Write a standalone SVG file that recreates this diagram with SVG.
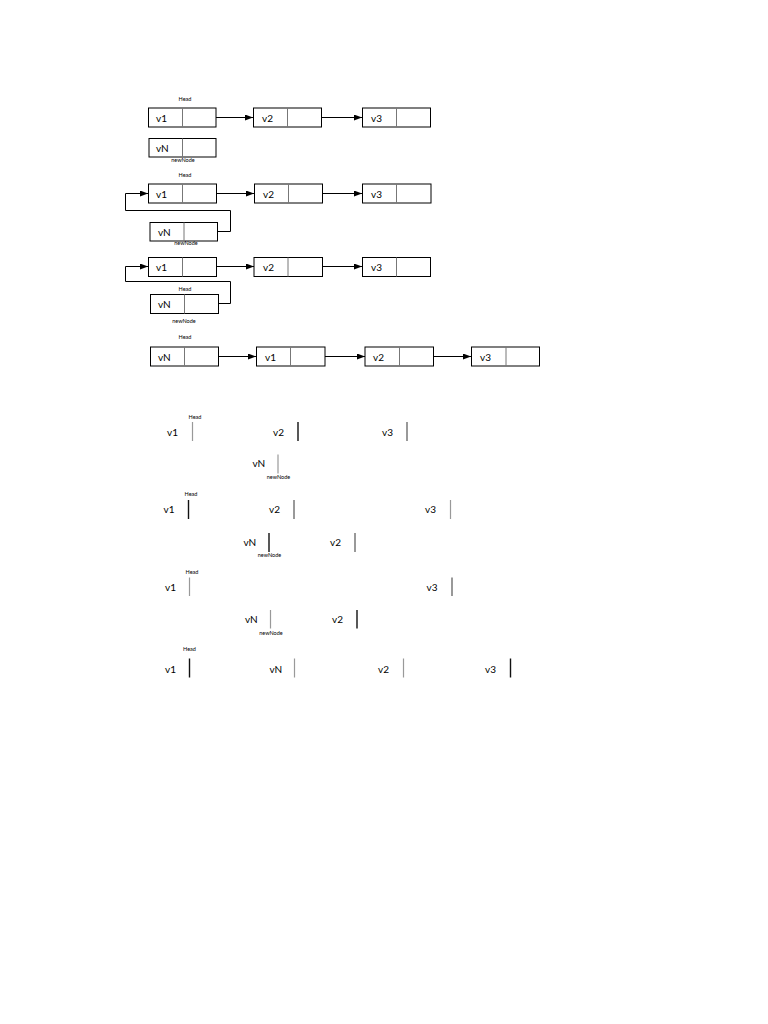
<svg xmlns="http://www.w3.org/2000/svg" width="768" height="1024" viewBox="0 0 768 1024">
<defs>
<marker id="ah" markerWidth="8" markerHeight="6" refX="8" refY="3" orient="auto" markerUnits="userSpaceOnUse">
<path d="M0,0 L8,3 L0,6 Z" fill="#000"/>
</marker>
<style>
.box{fill:#fff;stroke:#000;stroke-width:1}
.div{stroke:#777;stroke-width:1}
.t{font-family:Lato,"Liberation Sans",sans-serif;font-size:10px;fill:#000}
.s{font-family:Lato,"Liberation Sans",sans-serif;font-size:5.5px;fill:#000;text-anchor:middle}
.c{fill:none;stroke:#000;stroke-width:1}
.bar{stroke:#555;stroke-width:1.2}
.bard{stroke:#111;stroke-width:1.4}
.barl{stroke:#999;stroke-width:1.2}
</style>
</defs>
<rect width="768" height="1024" fill="#fff"/>

<g id="connectors">
<path class="c" d="M216,117.5 H253" marker-end="url(#ah)"/>
<path class="c" d="M321.5,117.5 H362" marker-end="url(#ah)"/>
<path class="c" d="M216.5,193.5 H254" marker-end="url(#ah)"/>
<path class="c" d="M322.5,193.5 H362" marker-end="url(#ah)"/>
<path class="c" d="M217.5,231.5 H230.5 V210.5 H125.5 V193.5 H148" marker-end="url(#ah)"/>
<path class="c" d="M216.5,266.5 H254" marker-end="url(#ah)"/>
<path class="c" d="M322.5,266.5 H362" marker-end="url(#ah)"/>
<path class="c" d="M218.5,303.5 H230.5 V281.5 H125.5 V266.5 H148" marker-end="url(#ah)"/>
<path class="c" d="M218.5,356.5 H256" marker-end="url(#ah)"/>
<path class="c" d="M325,356.5 H365" marker-end="url(#ah)"/>
<path class="c" d="M433.5,356.5 H471" marker-end="url(#ah)"/>
</g>

<!-- Row 1 -->
<g id="r1-head"><text class="s" x="185" y="101">Head</text></g>
<g id="r1-v1"><rect class="box" x="148.5" y="108" width="67.5" height="19"/><line class="div" x1="182.5" y1="108" x2="182.5" y2="127"/><text class="t" x="156" y="121.5">v1</text></g>
<g id="r1-v2"><rect class="box" x="253.5" y="108" width="68" height="19"/><line class="div" x1="287.5" y1="108" x2="287.5" y2="127"/><text class="t" x="262" y="121.5">v2</text></g>
<g id="r1-v3"><rect class="box" x="362.5" y="108" width="68" height="19"/><line class="div" x1="396.5" y1="108" x2="396.5" y2="127"/><text class="t" x="371" y="121.5">v3</text></g>
<g id="r1-vN"><rect class="box" x="149" y="138.5" width="67" height="18.5"/><line class="div" x1="182.5" y1="138.5" x2="182.5" y2="157"/><text class="t" x="156" y="151.5">vN</text><text class="s" x="183" y="162">newNode</text></g>

<!-- Row 2 -->
<g id="r2-head"><text class="s" x="185" y="177">Head</text></g>
<g id="r2-v1"><rect class="box" x="148.5" y="184" width="68" height="19"/><line class="div" x1="182.5" y1="184" x2="182.5" y2="203"/><text class="t" x="156" y="197.5">v1</text></g>
<g id="r2-v2"><rect class="box" x="254.5" y="184" width="68" height="19"/><line class="div" x1="288.5" y1="184" x2="288.5" y2="203"/><text class="t" x="263" y="197.5">v2</text></g>
<g id="r2-v3"><rect class="box" x="362.5" y="184" width="68.5" height="19"/><line class="div" x1="396.5" y1="184" x2="396.5" y2="203"/><text class="t" x="371" y="197.5">v3</text></g>
<g id="r2-vN"><rect class="box" x="150" y="222.5" width="67.5" height="18.5"/><line class="div" x1="184" y1="222.5" x2="184" y2="241"/><text class="t" x="158" y="235.5">vN</text><text class="s" x="186" y="245">newNode</text></g>

<!-- Row 3 -->
<g id="r3-v1"><rect class="box" x="148.5" y="257.5" width="68" height="19"/><line class="div" x1="182.5" y1="257.5" x2="182.5" y2="276.5"/><text class="t" x="156" y="270.5">v1</text></g>
<g id="r3-v2"><rect class="box" x="254" y="257.5" width="68.5" height="19"/><line class="div" x1="288" y1="257.5" x2="288" y2="276.5"/><text class="t" x="263" y="270.5">v2</text></g>
<g id="r3-v3"><rect class="box" x="362.5" y="257.5" width="68" height="19"/><line class="div" x1="396.5" y1="257.5" x2="396.5" y2="276.5"/><text class="t" x="371" y="270.5">v3</text></g>
<g id="r3-head"><text class="s" x="185" y="291">Head</text></g>
<g id="r3-vN"><rect class="box" x="150.5" y="294.5" width="68" height="19"/><line class="div" x1="184.5" y1="294.5" x2="184.5" y2="313.5"/><text class="t" x="158" y="308">vN</text><text class="s" x="184" y="323">newNode</text></g>

<!-- Row 4 -->
<g id="r4-head"><text class="s" x="185" y="339">Head</text></g>
<g id="r4-vN"><rect class="box" x="150.5" y="347" width="68" height="19"/><line class="div" x1="184.5" y1="347" x2="184.5" y2="366"/><text class="t" x="158" y="360.5">vN</text></g>
<g id="r4-v1"><rect class="box" x="256.5" y="347" width="68.5" height="19"/><line class="div" x1="290.5" y1="347" x2="290.5" y2="366"/><text class="t" x="265" y="360.5">v1</text></g>
<g id="r4-v2"><rect class="box" x="365" y="347" width="68.5" height="19"/><line class="div" x1="399.5" y1="347" x2="399.5" y2="366"/><text class="t" x="373" y="360.5">v2</text></g>
<g id="r4-v3"><rect class="box" x="471.5" y="347" width="68" height="19"/><line class="div" x1="506" y1="347" x2="506" y2="366"/><text class="t" x="480" y="360.5">v3</text></g>

<!-- Lower section, group 1 -->
<g id="l1-v1"><text class="s" x="195" y="419">Head</text><text class="t" x="167" y="436">v1</text><line class="barl" x1="192.5" y1="422" x2="192.5" y2="441"/></g>
<g id="l1-v2"><text class="t" x="273" y="436">v2</text><line class="bard" x1="298" y1="422" x2="298" y2="441"/></g>
<g id="l1-v3"><text class="t" x="382" y="436">v3</text><line class="bar" x1="407" y1="422" x2="407" y2="441"/></g>
<g id="l1-vN"><text class="t" x="252.5" y="467">vN</text><line class="barl" x1="278" y1="454.5" x2="278" y2="473.5"/><text class="s" x="278.5" y="479">newNode</text></g>

<!-- group 2 -->
<g id="l2-v1"><text class="s" x="191" y="496">Head</text><text class="t" x="163.5" y="513">v1</text><line class="bard" x1="188.5" y1="500" x2="188.5" y2="519"/></g>
<g id="l2-v2a"><text class="t" x="269" y="513">v2</text><line class="bar" x1="294" y1="500" x2="294" y2="519"/></g>
<g id="l2-v3"><text class="t" x="425" y="513">v3</text><line class="barl" x1="450.5" y1="500" x2="450.5" y2="519"/></g>
<g id="l2-vN"><text class="t" x="243.5" y="545.5">vN</text><line class="bard" x1="269" y1="533" x2="269" y2="552"/><text class="s" x="269.5" y="557">newNode</text></g>
<g id="l2-v2b"><text class="t" x="330" y="545.5">v2</text><line class="bar" x1="355" y1="533" x2="355" y2="552"/></g>

<!-- group 3 -->
<g id="l3-v1"><text class="s" x="192" y="574">Head</text><text class="t" x="165" y="591">v1</text><line class="barl" x1="189.5" y1="577.5" x2="189.5" y2="596"/></g>
<g id="l3-v3"><text class="t" x="426.5" y="591">v3</text><line class="bar" x1="452" y1="577.5" x2="452" y2="596"/></g>
<g id="l3-vN"><text class="t" x="245" y="623">vN</text><line class="barl" x1="270.5" y1="610" x2="270.5" y2="628.5"/><text class="s" x="271" y="635">newNode</text></g>
<g id="l3-v2"><text class="t" x="332" y="623">v2</text><line class="bard" x1="357" y1="610" x2="357" y2="628.5"/></g>

<!-- group 4 -->
<g id="l4-v1"><text class="s" x="189.5" y="651">Head</text><text class="t" x="165" y="672.5">v1</text><line class="bard" x1="189.5" y1="658.5" x2="189.5" y2="677.5"/></g>
<g id="l4-vN"><text class="t" x="269.5" y="672.5">vN</text><line class="barl" x1="294.5" y1="658.5" x2="294.5" y2="677.5"/></g>
<g id="l4-v2"><text class="t" x="378" y="672.5">v2</text><line class="barl" x1="403.5" y1="658.5" x2="403.5" y2="677.5"/></g>
<g id="l4-v3"><text class="t" x="485" y="672.5">v3</text><line class="bard" x1="510.5" y1="658.5" x2="510.5" y2="677.5"/></g>
</svg>
